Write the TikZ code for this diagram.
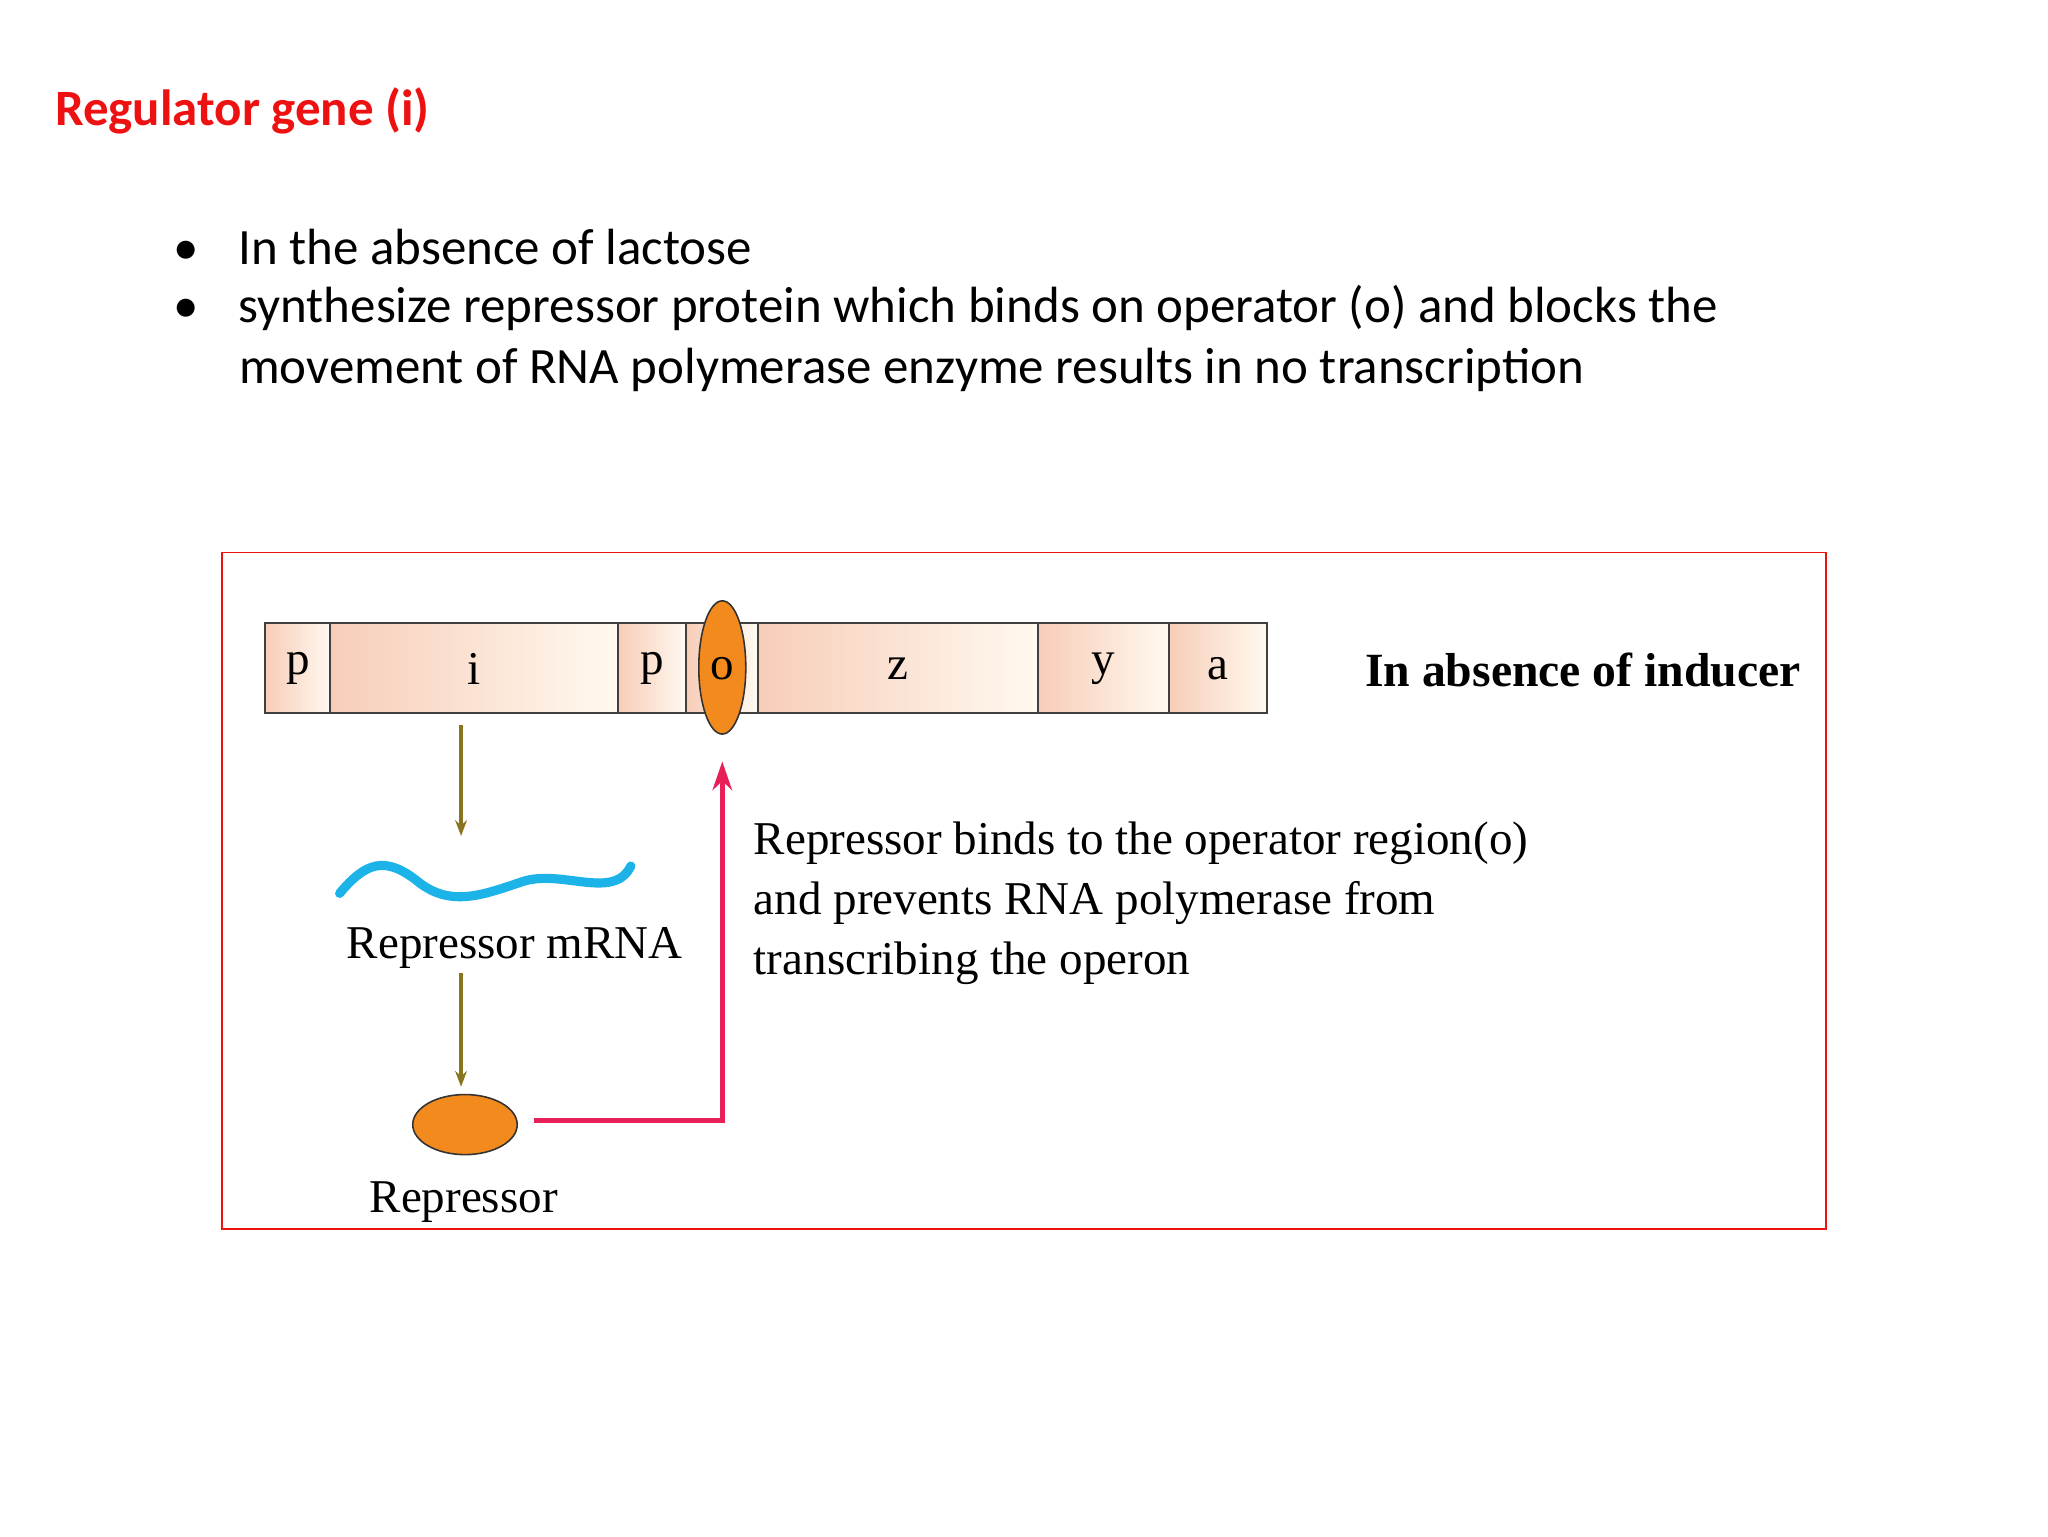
\documentclass[tikz,border=0pt]{standalone}
\usepackage{fontspec}
\setmainfont{Liberation Serif}
\newfontfamily\carl{Carlito}
\usetikzlibrary{arrows.meta,shapes.geometric}
\definecolor{tred}{HTML}{EE1111}
\definecolor{orng}{HTML}{F28A1E}
\definecolor{olive}{HTML}{8A7420}
\definecolor{pinkr}{HTML}{E8205A}
\definecolor{cyanw}{HTML}{1BB3E8}
\definecolor{segL}{HTML}{F7CDB8}
\definecolor{segR}{HTML}{FFF9F0}
\begin{document}
\begin{tikzpicture}[x=1pt,y=-1pt,
  seg/.style={draw=black!75,line width=1.5pt,left color=segL,right color=segR},
  lab/.style={font=\fontsize{36}{40}\selectfont},
  body/.style={font=\carl\fontsize{39}{46}\selectfont,anchor=west},
  dtext/.style={font=\fontsize{36}{46}\selectfont},
  darr/.style={draw=olive,line width=2.6pt,-{Stealth[length=12pt,width=9pt]}}]
\useasboundingbox (0,0) rectangle (1568,1176);
\node[anchor=west,text=tred,font=\carl\bfseries\fontsize{39}{46}\selectfont,inner sep=0pt] (title) at (42,85) {Regulator gene (i)};
\node[body,inner sep=0pt] (b1) at (133,189) {•\hspace{30pt}In the absence of lactose};
\node[body,inner sep=0pt] (b2) at (133,236) {•\hspace{30pt}synthesize repressor protein which binds on operator (o) and blocks the};
\node[body,inner sep=0pt] (b3) at (183,283) {movement of RNA polymerase enzyme results in no transcription};
\draw[tred,line width=1.2pt] (170,423) rectangle (1398,941);
% bar
\foreach \a/\b/\t/\n in {203/253/p/s1,253/473/i/s2,473/525/p/s3,525/580/{}/s4,580/795/z/s5,795/895/y/s6,895/970/a/s7}{
  \path[seg] (\a,477) rectangle (\b,546);
  \node[lab] (\n) at ({(\a+\b)/2},512) {\t};
}
\node[ellipse,draw=black!80,line width=1.2pt,fill=orng,minimum width=36pt,minimum height=102pt,inner sep=0pt] (op) at (553,511) {};
\node[lab] (ol) at (553,512) {o};
\node[font=\bfseries\fontsize{36.5}{40}\selectfont,anchor=west,inner sep=0pt] (inh) at (1045,513) {In absence of inducer};
\coordinate (a1s) at (353,555);
\coordinate (a1e) at (353,640);
\draw[darr] (a1s) -- (a1e);
\draw[cyanw,line width=7pt,line cap=round] (260,684) .. controls (280,660) and (295,655) .. (320,675) .. controls (345,695) and (370,685) .. (400,675) .. controls (430,665) and (470,690) .. (483,663);
\node[dtext] (mrna) at (394,726) {Repressor mRNA};
\coordinate (a2s) at (353,745);
\coordinate (a2e) at (353,832);
\draw[darr] (a2s) -- (a2e);
\node[ellipse,draw=black!80,line width=1.2pt,fill=orng,minimum width=80pt,minimum height=46pt,inner sep=0pt] (rep) at (356,861) {};
\node[dtext] (repl) at (355,920) {Repressor};
\coordinate (up) at (553,583);
\draw[pinkr,line width=3.5pt,-{Stealth[length=22pt,width=15pt]}] (rep.east) ++(12,-3) -| (up);
\node[dtext,anchor=north west,align=left,inner sep=0pt] (desc) at (577,629) {Repressor binds to the operator region(o)\\and prevents RNA polymerase from\\transcribing the operon};
\end{tikzpicture}
\end{document}
